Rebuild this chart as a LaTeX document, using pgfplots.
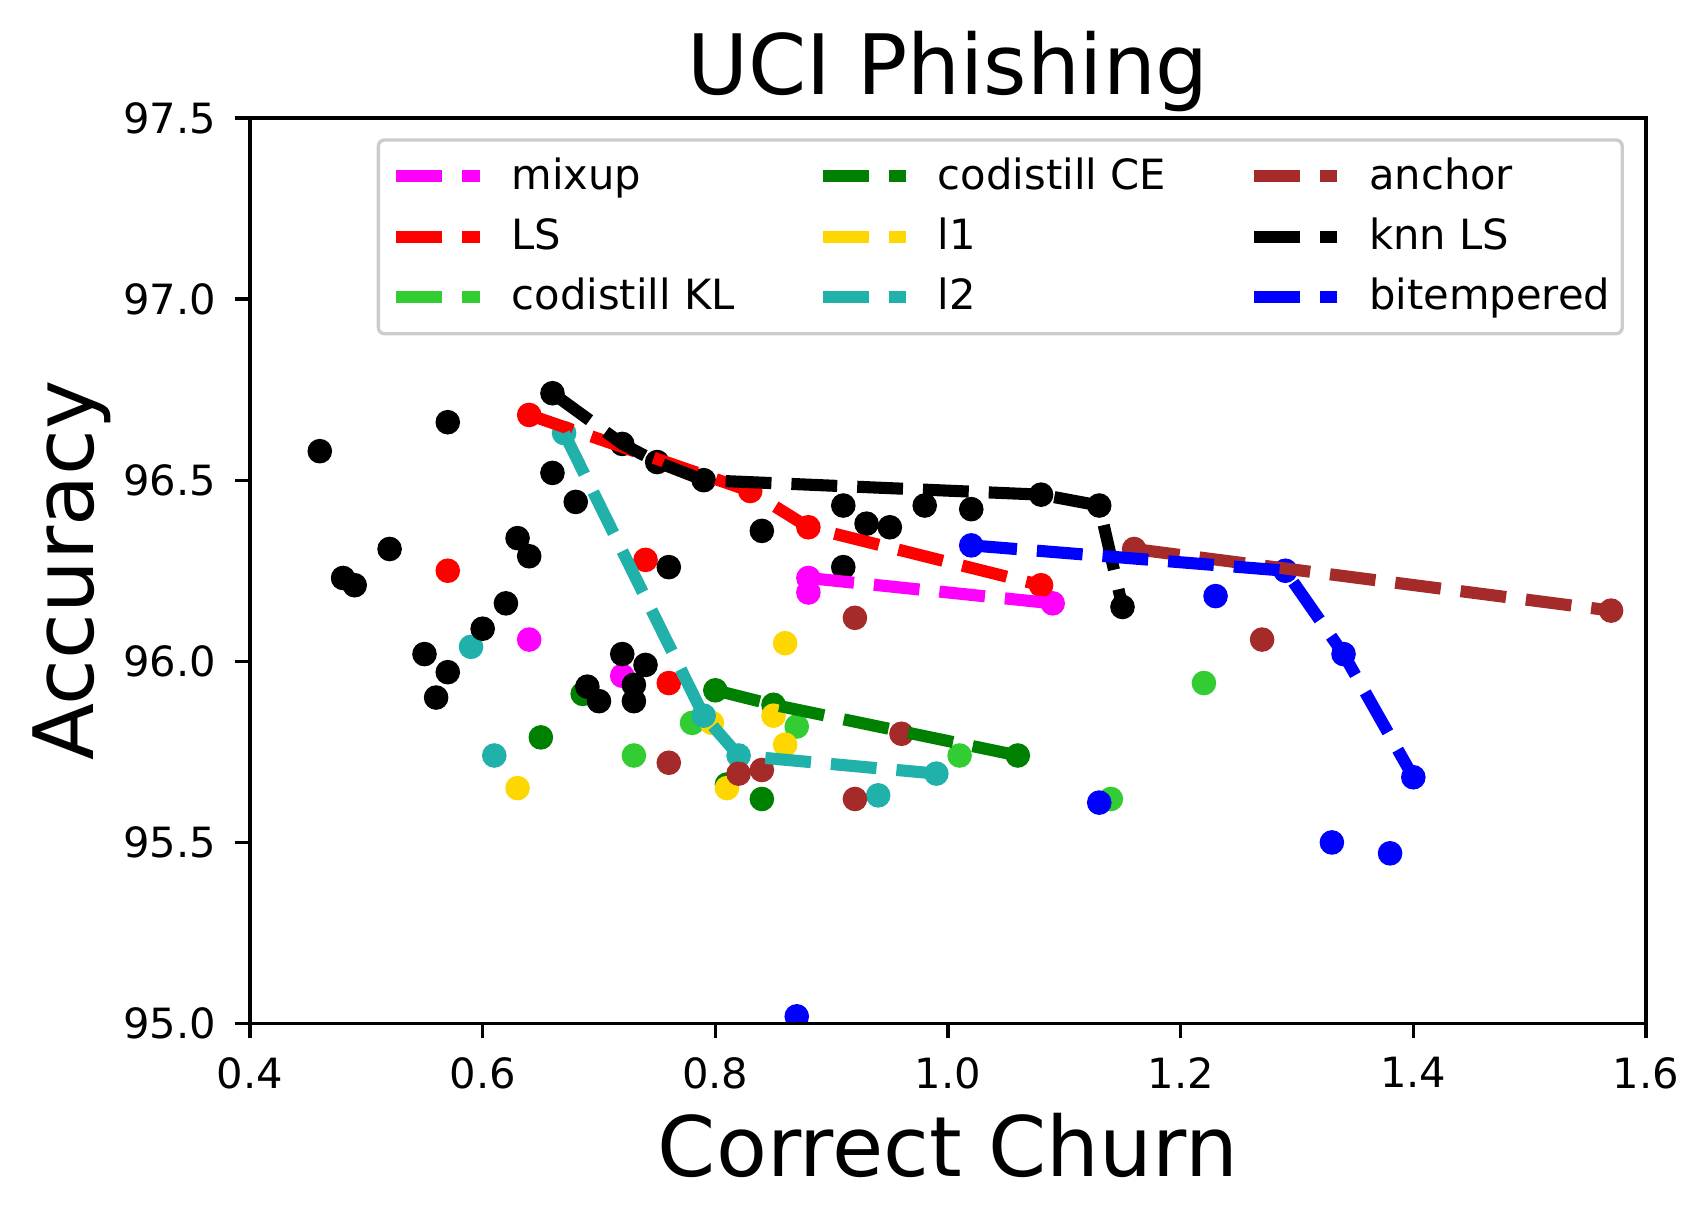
\documentclass[border=0pt]{standalone}
\usepackage{pgfplots}
\pgfplotsset{compat=1.18}
\usepackage{fontspec}
\setmainfont{DejaVu Sans}
\usetikzlibrary{calc}
\definecolor{cmag}{RGB}{255,0,255}
\definecolor{cred}{RGB}{255,0,0}
\definecolor{clime}{RGB}{50,205,50}
\definecolor{cgreen}{RGB}{0,128,0}
\definecolor{cgold}{RGB}{255,215,0}
\definecolor{cteal}{RGB}{32,178,170}
\definecolor{cbrown}{RGB}{165,42,42}
\definecolor{cblack}{RGB}{0,0,0}
\definecolor{cblue}{RGB}{0,0,255}
\definecolor{legframe}{RGB}{204,204,204}
\pgfplotsset{
  pts/.style={only marks, mark=*, mark size=2.8pt, color=#1, mark options={solid, fill=#1, draw=#1, line width=0.3pt}, forget plot},
  frontier/.style={color=#1, line width=2.9pt, dash pattern=on 11pt off 4.8pt, line cap=butt, line join=round, mark=none, forget plot},
  every axis title/.style={at={(axis description cs:0.5,1)}, anchor=base, yshift=5.5pt, inner sep=0pt, font=\fontsize{20}{24}\selectfont},
}
\begin{document}
\begin{tikzpicture}
\begin{axis}[
  scale only axis,
  width=335.04pt, height=217.37pt,
  xmin=0.4, xmax=1.6, ymin=95, ymax=97.5,
  xtick={0.4,0.6,0.8,1.0,1.2,1.4,1.6},
  ytick={95,95.5,96,96.5,97,97.5},
  xtick pos=bottom, ytick pos=left,
  tick align=outside,
  major tick length=3.5pt,
  every tick/.style={black, line width=0.8pt},
  axis line style={line width=0.8pt},
  axis on top,
  clip marker paths=true,
  /pgf/number format/.cd, fixed, fixed zerofill, precision=1, assume math mode=true,
  /pgfplots/.cd,
  ticklabel style={font=\fontsize{10}{12}\selectfont},
  xticklabel style={anchor=north, inner sep=0pt, yshift=-4.4pt},
  yticklabel style={anchor=east, inner sep=0pt, xshift=-4.4pt},
  title={UCI Phishing},
  xlabel={Correct Churn},
  xlabel style={at={(axis description cs:0.5,0)}, anchor=base, yshift=-36.7pt, inner sep=0pt, font=\fontsize{20}{24}\selectfont},
  ylabel={Accuracy},
  ylabel style={at={($(axis description cs:0,0.5)+(-37.5pt,0)$)}, rotate=0, anchor=base, inner sep=0pt, font=\fontsize{20}{24}\selectfont},
  legend columns=3,
  legend cell align=left,
  legend image code/.code={\draw[#1, line width=2.9pt, dash pattern=on 11pt off 4.8pt, line cap=butt] (0pt,0pt) -- (20pt,0pt);},
  legend style={
    at={(rel axis cs:1,1)}, anchor=north east, xshift=-5.3pt, yshift=-4.9pt,
    draw=legframe, line width=0.8pt, rounded corners=1.5pt, fill=white,
    inner xsep=2.9pt, inner ysep=4.5pt,
    font=\fontsize{10}{12}\selectfont,
    row sep=6.0pt, column sep=0pt,
    nodes={inner sep=0pt, text height=7.3pt, text depth=1.2pt},
    /tikz/every odd column/.append style={column sep=6.2pt},
    /tikz/every even column/.append style={column sep=19.7pt},
  },
]
\coordinate (O) at (rel axis cs:0,0);
\coordinate (T) at (rel axis cs:1,1);
% ---------- scatter points ----------
% mixup
\addplot[pts=cmag] coordinates {(0.88,96.23) (0.88,96.19) (1.09,96.16) (0.64,96.06) (0.72,95.96)};
% LS
\addplot[pts=cred] coordinates {(0.64,96.68) (0.83,96.47) (0.88,96.37) (1.08,96.21) (0.57,96.25) (0.74,96.28) (0.76,95.94)};
% codistill KL
\addplot[pts=clime] coordinates {(0.78,95.83) (0.73,95.74) (0.87,95.82) (1.01,95.74) (1.14,95.62) (1.22,95.94)};
% codistill CE
\addplot[pts=cgreen] coordinates {(0.80,95.92) (0.85,95.88) (1.06,95.74) (0.65,95.79) (0.686,95.91) (0.81,95.66) (0.84,95.62)};
% l1
\addplot[pts=cgold] coordinates {(0.63,95.65) (0.797,95.83) (0.81,95.65) (0.85,95.85) (0.86,95.77) (0.86,96.05)};
% l2
\addplot[pts=cteal] coordinates {(0.67,96.63) (0.79,95.85) (0.82,95.74) (0.99,95.69) (0.59,96.04) (0.61,95.74) (0.94,95.63)};
% anchor
\addplot[pts=cbrown] coordinates {(1.16,96.31) (1.57,96.14) (0.76,95.72) (0.82,95.69) (0.84,95.70) (0.92,95.62) (0.92,96.12) (0.96,95.80) (1.27,96.06)};
% knn LS
\addplot[pts=cblack] coordinates {(0.66,96.74) (0.72,96.60) (0.75,96.55) (0.79,96.50) (1.08,96.46) (1.13,96.43) (1.15,96.15)
  (0.46,96.58) (0.57,96.66) (0.66,96.52) (0.68,96.44) (0.52,96.31) (0.48,96.23) (0.49,96.21) (0.63,96.34) (0.64,96.29)
  (0.76,96.26) (0.62,96.16) (0.60,96.09) (0.55,96.02) (0.57,95.97) (0.56,95.90) (0.72,96.02) (0.74,95.99) (0.69,95.93)
  (0.70,95.89) (0.73,95.935) (0.73,95.89) (0.84,96.36) (0.91,96.43) (0.93,96.38) (0.95,96.37) (0.98,96.43) (1.02,96.42) (0.91,96.26)};
% bitempered
\addplot[pts=cblue] coordinates {(1.02,96.32) (1.29,96.25) (1.34,96.02) (1.40,95.68) (0.87,95.02) (1.13,95.61) (1.23,96.18) (1.33,95.50) (1.38,95.47)};
% ---------- frontier lines ----------
\addplot[frontier=cmag] coordinates {(0.88,96.23) (1.09,96.16)};
\addplot[frontier=cred] coordinates {(0.64,96.68) (0.83,96.47) (0.88,96.37) (1.08,96.21)};
\addplot[frontier=cgreen] coordinates {(0.80,95.92) (0.85,95.88) (1.06,95.74)};
\addplot[frontier=cteal] coordinates {(0.67,96.63) (0.79,95.85) (0.82,95.74) (0.99,95.69)};
\addplot[frontier=cbrown] coordinates {(1.16,96.31) (1.57,96.14)};
\addplot[frontier=cblack] coordinates {(0.66,96.74) (0.72,96.60) (0.75,96.55) (0.79,96.50) (1.08,96.46) (1.13,96.43) (1.15,96.15)};
\addplot[frontier=cblue] coordinates {(1.02,96.32) (1.29,96.25) (1.34,96.02) (1.40,95.68)};
% ---------- legend (row-major order) ----------
\addlegendimage{color=cmag}\addlegendentry{mixup}
\addlegendimage{color=cgreen}\addlegendentry{codistill CE}
\addlegendimage{color=cbrown}\addlegendentry{anchor}
\addlegendimage{color=cred}\addlegendentry{LS}
\addlegendimage{color=cgold}\addlegendentry{l1}
\addlegendimage{color=cblack}\addlegendentry{knn LS}
\addlegendimage{color=clime}\addlegendentry{codistill KL}
\addlegendimage{color=cteal}\addlegendentry{l2}
\addlegendimage{color=cblue}\addlegendentry{bitempered}
\end{axis}
\pgfresetboundingbox
\path[use as bounding box] ([xshift=-60pt,yshift=-47.28pt]O) rectangle ([xshift=14.64pt,yshift=28.3pt]T);
\end{tikzpicture}
\end{document}
